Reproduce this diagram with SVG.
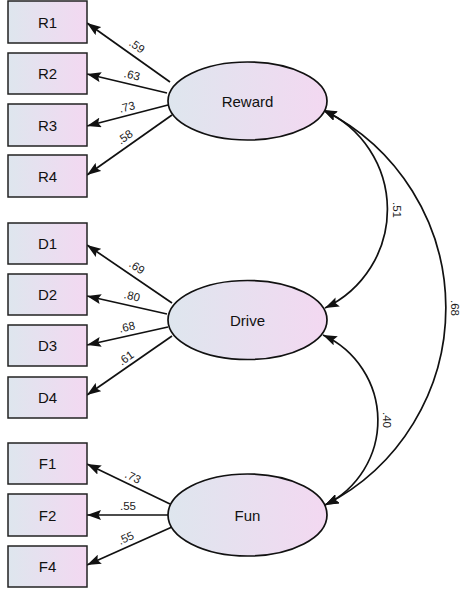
<svg xmlns="http://www.w3.org/2000/svg" width="474" height="604" viewBox="0 0 474 604">
<style>
.box{stroke:#222;stroke-width:1.5}
.ell{stroke:#111;stroke-width:1.7}
.lbl{font-family:"Liberation Sans",Arial,sans-serif;font-size:15px;fill:#111;text-anchor:middle}
.coef{font-family:"Liberation Sans",Arial,sans-serif;font-size:11.5px;fill:#222;text-anchor:middle}
.ln{stroke:#111;stroke-width:1.7;fill:none}
</style>
<defs>
<linearGradient id="g" x1="0" y1="0" x2="1" y2="0">
<stop offset="0" stop-color="#dee6ee"/>
<stop offset="1" stop-color="#f3d8f1"/>
</linearGradient>
<marker id="ah" viewBox="0 0 14 10" refX="14" refY="5" markerWidth="14" markerHeight="10" markerUnits="userSpaceOnUse" orient="auto-start-reverse">
<path d="M0,0 L14,5 L0,10 L2.5,5 z" fill="#111"/>
</marker>
</defs>
<g id="connectors">
<path class="ln" d="M170,82 L87,23" marker-end="url(#ah)"/>
<path class="ln" d="M167,93 L87,74" marker-end="url(#ah)"/>
<path class="ln" d="M168,105 L87,126" marker-end="url(#ah)"/>
<path class="ln" d="M172,115 L87,175" marker-end="url(#ah)"/>
<path class="ln" d="M172,303 L87,245" marker-end="url(#ah)"/>
<path class="ln" d="M167,314 L87,296" marker-end="url(#ah)"/>
<path class="ln" d="M168,327 L87,345" marker-end="url(#ah)"/>
<path class="ln" d="M172,336 L87,395" marker-end="url(#ah)"/>
<path class="ln" d="M170,504 L87,464" marker-end="url(#ah)"/>
<path class="ln" d="M168,515 L87,515" marker-end="url(#ah)"/>
<path class="ln" d="M172,527 L87,565" marker-end="url(#ah)"/>
<path class="ln" d="M323,110 A109,109 0 0 1 325,308" marker-start="url(#ah)" marker-end="url(#ah)"/>
<path class="ln" d="M323,335 A94,94 0 0 1 325,505" marker-start="url(#ah)" marker-end="url(#ah)"/>
<path class="ln" d="M323,110 A221,221 0 0 1 325,505" marker-start="url(#ah)" marker-end="url(#ah)"/>
<g class="coef">
<text transform="translate(137,46) rotate(35)" y="4">.59</text>
<text transform="translate(132,75) rotate(13)" y="4">.63</text>
<text transform="translate(127,107) rotate(-14)" y="4">.73</text>
<text transform="translate(125,137) rotate(-35)" y="4">.58</text>
<text transform="translate(137,267) rotate(34)" y="4">.69</text>
<text transform="translate(132,296) rotate(13)" y="4">.80</text>
<text transform="translate(127,327) rotate(-13)" y="4">.68</text>
<text transform="translate(126,358) rotate(-35)" y="4">.61</text>
<text transform="translate(133,477) rotate(26)" y="4">.73</text>
<text transform="translate(128,506)" y="4">.55</text>
<text transform="translate(126,538) rotate(-24)" y="4">.55</text>
<text transform="translate(397,210) rotate(90)" y="4">.51</text>
<text transform="translate(387,420) rotate(90)" y="4">.40</text>
<text transform="translate(455,308) rotate(90)" y="4">.68</text>
</g>
</g>
<g id="R1"><rect class="box" x="8" y="1" width="79" height="42" fill="url(#g)"/><text class="lbl" x="47.5" y="27.5">R1</text></g>
<g id="R2"><rect class="box" x="8" y="53" width="79" height="41" fill="url(#g)"/><text class="lbl" x="47.5" y="79">R2</text></g>
<g id="R3"><rect class="box" x="8" y="104" width="79" height="42" fill="url(#g)"/><text class="lbl" x="47.5" y="130.5">R3</text></g>
<g id="R4"><rect class="box" x="8" y="155" width="79" height="42" fill="url(#g)"/><text class="lbl" x="47.5" y="181.5">R4</text></g>
<g id="D1"><rect class="box" x="8" y="223" width="79" height="41" fill="url(#g)"/><text class="lbl" x="47.5" y="249">D1</text></g>
<g id="D2"><rect class="box" x="8" y="274" width="79" height="41" fill="url(#g)"/><text class="lbl" x="47.5" y="300">D2</text></g>
<g id="D3"><rect class="box" x="8" y="325" width="79" height="41" fill="url(#g)"/><text class="lbl" x="47.5" y="351">D3</text></g>
<g id="D4"><rect class="box" x="8" y="377" width="79" height="41" fill="url(#g)"/><text class="lbl" x="47.5" y="403">D4</text></g>
<g id="F1"><rect class="box" x="8" y="443" width="79" height="41" fill="url(#g)"/><text class="lbl" x="47.5" y="469">F1</text></g>
<g id="F2"><rect class="box" x="8" y="494" width="79" height="42" fill="url(#g)"/><text class="lbl" x="47.5" y="520.5">F2</text></g>
<g id="F4"><rect class="box" x="8" y="546" width="79" height="41" fill="url(#g)"/><text class="lbl" x="47.5" y="572">F4</text></g>
<g id="Reward"><ellipse class="ell" cx="247.5" cy="101" rx="79.5" ry="39" fill="url(#g)"/><text class="lbl" x="247.5" y="106.5">Reward</text></g>
<g id="Drive"><ellipse class="ell" cx="247.5" cy="320" rx="79.5" ry="39.5" fill="url(#g)"/><text class="lbl" x="247.5" y="325.5">Drive</text></g>
<g id="Fun"><ellipse class="ell" cx="247.5" cy="515" rx="79.5" ry="41" fill="url(#g)"/><text class="lbl" x="247.5" y="520.5">Fun</text></g>
</svg>
